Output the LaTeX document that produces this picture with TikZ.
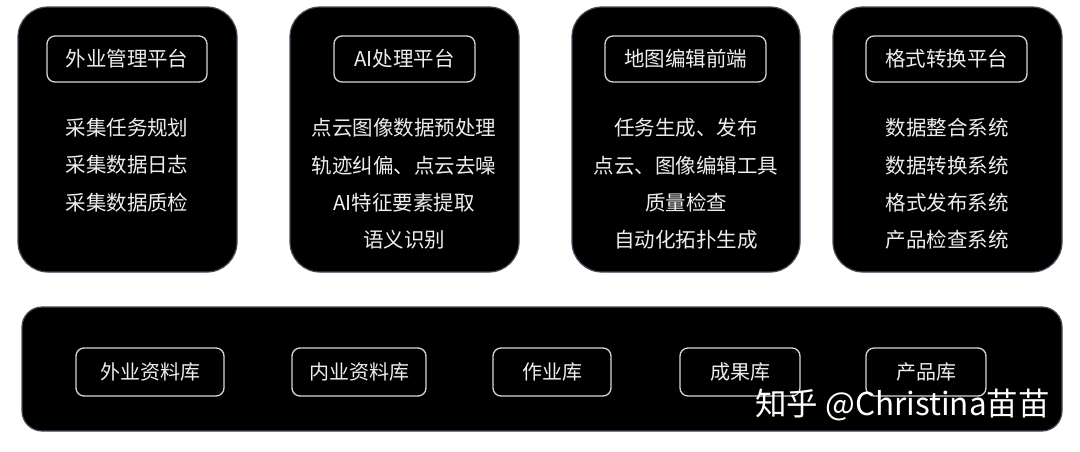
\documentclass[tikz,border=0pt]{standalone}
\usepackage{fontspec}
\setmainfont{Noto Sans CJK SC}
\newfontfamily\cjkfont{Noto Sans CJK SC}
\definecolor{edgegray}{RGB}{70,76,92}
\definecolor{txtgray}{RGB}{238,238,238}
\definecolor{linegray}{RGB}{215,215,215}
\tikzset{
  panel/.style={fill=black, draw=edgegray, line width=1.2pt, rounded corners=30pt},
  titlebox/.style={draw=linegray, line width=1.3pt, rounded corners=8pt, minimum height=46pt, text=txtgray, font=\fontsize{20.5}{23}\selectfont, inner sep=0pt},
  item/.style={text=txtgray, font=\fontsize{20.5}{23}\selectfont, inner sep=0pt},
  dbbox/.style={draw=linegray, line width=1.3pt, rounded corners=8pt, minimum height=48pt, text=txtgray, font=\fontsize{20}{23}\selectfont, inner sep=0pt},
  wmark/.style={text=white, font=\fontsize{31.5}{35}\selectfont, inner sep=0pt, anchor=east}
}
\begin{document}
\begin{tikzpicture}[x=1pt,y=-1pt]
\useasboundingbox[fill=white] (0,0) rectangle (1080,451);
% top panels
\node[panel, minimum width=219pt, minimum height=265pt] (p1) at (127.5,139.5) {};
\node[panel, minimum width=229pt, minimum height=265pt] (p2) at (404.5,139.5) {};
\node[panel, minimum width=228pt, minimum height=265pt] (p3) at (686,139.5) {};
\node[panel, minimum width=229pt, minimum height=265pt] (p4) at (947.5,139.5) {};
% titles
\node[titlebox, minimum width=160pt] (t1) at (127,59) {外业管理平台};
\node[titlebox, minimum width=141pt] (t2) at (404.5,59) {AI处理平台};
\node[titlebox, minimum width=161pt] (t3) at (685.5,59) {地图编辑前端};
\node[titlebox, minimum width=161pt] (t4) at (946.5,59) {格式转换平台};
% items
\node[item] (a1) at (127,128) {采集任务规划};
\node[item] (a2) at (127,165) {采集数据日志};
\node[item] (a3) at (127,203) {采集数据质检};
\node[item] (b1) at (404,128) {点云图像数据预处理};
\node[item] (b2) at (404,166) {轨迹纠偏、点云去噪};
\node[item] (b3) at (404,203) {AI特征要素提取};
\node[item] (b4) at (404,240) {语义识别};
\node[item] (c1) at (686,128) {任务生成、发布};
\node[item] (c2) at (686,166) {点云、图像编辑工具};
\node[item] (c3) at (686,203) {质量检查};
\node[item] (c4) at (686,240) {自动化拓扑生成};
\node[item] (d1) at (947,128) {数据整合系统};
\node[item] (d2) at (947,166) {数据转换系统};
\node[item] (d3) at (947,203) {格式发布系统};
\node[item] (d4) at (947,240) {产品检查系统};
% bottom panel
\node[panel, rounded corners=20pt, minimum width=1040pt, minimum height=124pt] (base) at (542,369) {};
\node[dbbox, minimum width=148pt] (k1) at (150,372) {外业资料库};
\node[dbbox, minimum width=134pt] (k2) at (359,372) {内业资料库};
\node[dbbox, minimum width=118pt] (k3) at (552,372) {作业库};
\node[dbbox, minimum width=120pt] (k4) at (740,372) {成果库};
\node[dbbox, minimum width=120pt] (k5) at (926,372) {产品库};
% watermark
\node[wmark] (wm) at (1050,405) {知乎 @Christina苗苗};
\end{tikzpicture}
\end{document}
